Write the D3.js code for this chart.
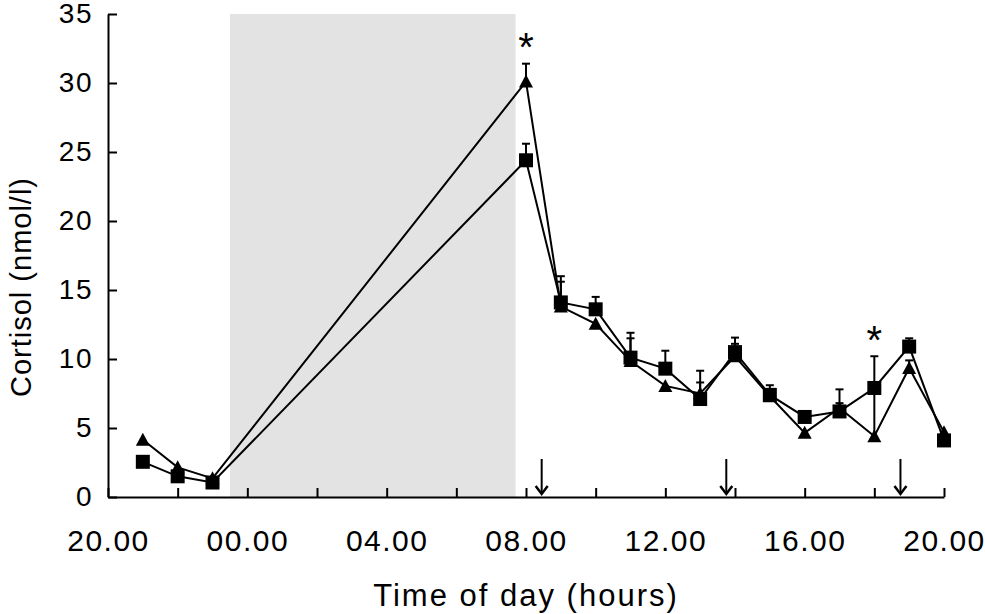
<!DOCTYPE html>
<html>
<head>
<meta charset="utf-8">
<script src="https://cdn.jsdelivr.net/npm/d3@7"></script>
<style>
    body { margin: 0; background: #fff; }
    svg { display: block; font-family: "Liberation Sans", Arial, sans-serif; }
    .axis path, .axis line { stroke: #000; stroke-width: 2; }
    .axis text { fill: #000; }
</style>
</head>
<body>
<svg id="chart" width="985" height="614"></svg>
<script>
// hours elapsed since 20.00 on day 1
var sampleHours = [1, 2, 3, 12, 13, 14, 15, 16, 17, 18, 19, 20, 21, 22, 23, 24];

var triangleMean = [4.15, 2.15, 1.35, 30.1, 13.8, 12.55, 9.85, 8.05, 7.5, 10.2, 7.3, 4.65, 6.45, 4.4, 9.35, 4.7];
var triangleSE   = [0, 0, 0, 1.3, 1.8, 0, 1.65, 0, 0.8, 0.9, 0, 0, 0.35, 5.8, 0.55, 0];

var squareMean = [2.55, 1.5, 1.05, 24.4, 14.1, 13.6, 10.1, 9.3, 7.1, 10.5, 7.4, 5.8, 6.2, 7.9, 10.9, 4.1];
var squareSE   = [0, 0, 0, 1.2, 1.9, 0.9, 1.8, 1.3, 2.05, 1.05, 0.7, 0, 1.6, 0, 0.6, 0];

var nightPeriod = [3.5, 11.7];
var mealHours = [12.45, 17.75, 22.75];
var significant = [{ hour: 12, value: 33.1 }, { hour: 22, value: 11.9 }];

var xTickLabels = ["20.00", "", "00.00", "", "04.00", "", "08.00", "", "12.00", "", "16.00", "", "20.00"];
var yTicks = [0, 5, 10, 15, 20, 25, 30, 35];

var svg = d3.select("#chart");
var x = d3.scaleLinear().domain([0, 24]).range([108, 944]);
var y = d3.scaleLinear().domain([0, 35]).range([497, 14]);

function series(mean, se) {
    return sampleHours.map(function(h, i) { return { hour: h, value: mean[i], se: se[i] }; });
}
var triangles = series(triangleMean, triangleSE);
var squares = series(squareMean, squareSE);

// lights-off shading
svg.append("rect")
    .attr("x", x(nightPeriod[0]))
    .attr("y", y(35))
    .attr("width", x(nightPeriod[1]) - x(nightPeriod[0]))
    .attr("height", y(0) - y(35))
    .style("fill", "#e3e3e3");

// axes
svg.append("g")
    .attr("class", "x axis")
    .attr("transform", "translate(0," + y(0) + ")")
    .call(d3.axisBottom(x)
        .tickValues(d3.range(0, 25, 2))
        .tickSizeInner(-9).tickSizeOuter(0).tickPadding(33)
        .tickFormat(function(d, i) { return xTickLabels[i]; }))
    .selectAll("text")
    .style("font-size", "30px")
    .style("letter-spacing", "1.5px");

svg.append("g")
    .attr("class", "y axis")
    .attr("transform", "translate(" + x(0) + ",0)")
    .call(d3.axisLeft(y)
        .tickValues(yTicks)
        .tickSizeInner(-9).tickSizeOuter(0).tickPadding(15))
    .selectAll("text")
    .style("font-size", "28px")
    .style("letter-spacing", "1.5px");

svg.append("text")
    .attr("x", (x(0) + x(24)) / 2)
    .attr("y", 606)
    .attr("text-anchor", "middle")
    .style("font-size", "31px")
    .style("letter-spacing", "2px")
    .text("Time of day (hours)");

svg.append("text")
    .attr("transform", "translate(31," + 287 + ") rotate(-90)")
    .attr("text-anchor", "middle")
    .style("font-size", "29px")
    .style("letter-spacing", "1px")
    .text("Cortisol (nmol/l)");

// lines
var line = d3.line()
    .x(function(d) { return x(d.hour); })
    .y(function(d) { return y(d.value); });

[triangles, squares].forEach(function(data) {
    svg.append("path")
        .datum(data)
        .attr("d", line)
        .style("fill", "none")
        .style("stroke", "#000")
        .style("stroke-width", 2);
});

// upward error bars
function drawErrors(data) {
    var g = svg.append("g").selectAll("g")
        .data(data.filter(function(d) { return d.se > 0; }))
        .enter().append("g");
    g.append("line")
        .attr("x1", function(d) { return x(d.hour); })
        .attr("x2", function(d) { return x(d.hour); })
        .attr("y1", function(d) { return y(d.value); })
        .attr("y2", function(d) { return y(d.value + d.se); })
        .style("stroke", "#000").style("stroke-width", 2);
    g.append("line")
        .attr("x1", function(d) { return x(d.hour) - 4; })
        .attr("x2", function(d) { return x(d.hour) + 4; })
        .attr("y1", function(d) { return y(d.value + d.se); })
        .attr("y2", function(d) { return y(d.value + d.se); })
        .style("stroke", "#000").style("stroke-width", 2);
}
drawErrors(triangles);
drawErrors(squares);

// markers
svg.append("g").selectAll("path")
    .data(triangles)
    .enter().append("path")
    .attr("transform", function(d) { return "translate(" + x(d.hour) + "," + y(d.value) + ")"; })
    .attr("d", "M0,-7L7,6L-7,6Z")
    .style("fill", "#000");

svg.append("g").selectAll("rect")
    .data(squares)
    .enter().append("rect")
    .attr("x", function(d) { return x(d.hour) - 7; })
    .attr("y", function(d) { return y(d.value) - 7; })
    .attr("width", 14)
    .attr("height", 14)
    .style("fill", "#000");

// feeding arrows
var arrows = svg.append("g").selectAll("g")
    .data(mealHours)
    .enter().append("g")
    .attr("transform", function(d) { return "translate(" + x(d) + "," + y(0) + ")"; });
arrows.append("line")
    .attr("y1", -38).attr("y2", -3)
    .style("stroke", "#000").style("stroke-width", 2);
arrows.append("path")
    .attr("d", "M-6,-11L0,-3L6,-11")
    .style("fill", "none").style("stroke", "#000").style("stroke-width", 2.5);

// significance markers
svg.append("g").selectAll("text")
    .data(significant)
    .enter().append("text")
    .attr("x", function(d) { return x(d.hour); })
    .attr("y", function(d) { return y(d.value); })
    .attr("dy", "0.52em")
    .attr("text-anchor", "middle")
    .style("font-size", "40px")
    .text("*");
</script>
</body>
</html>
